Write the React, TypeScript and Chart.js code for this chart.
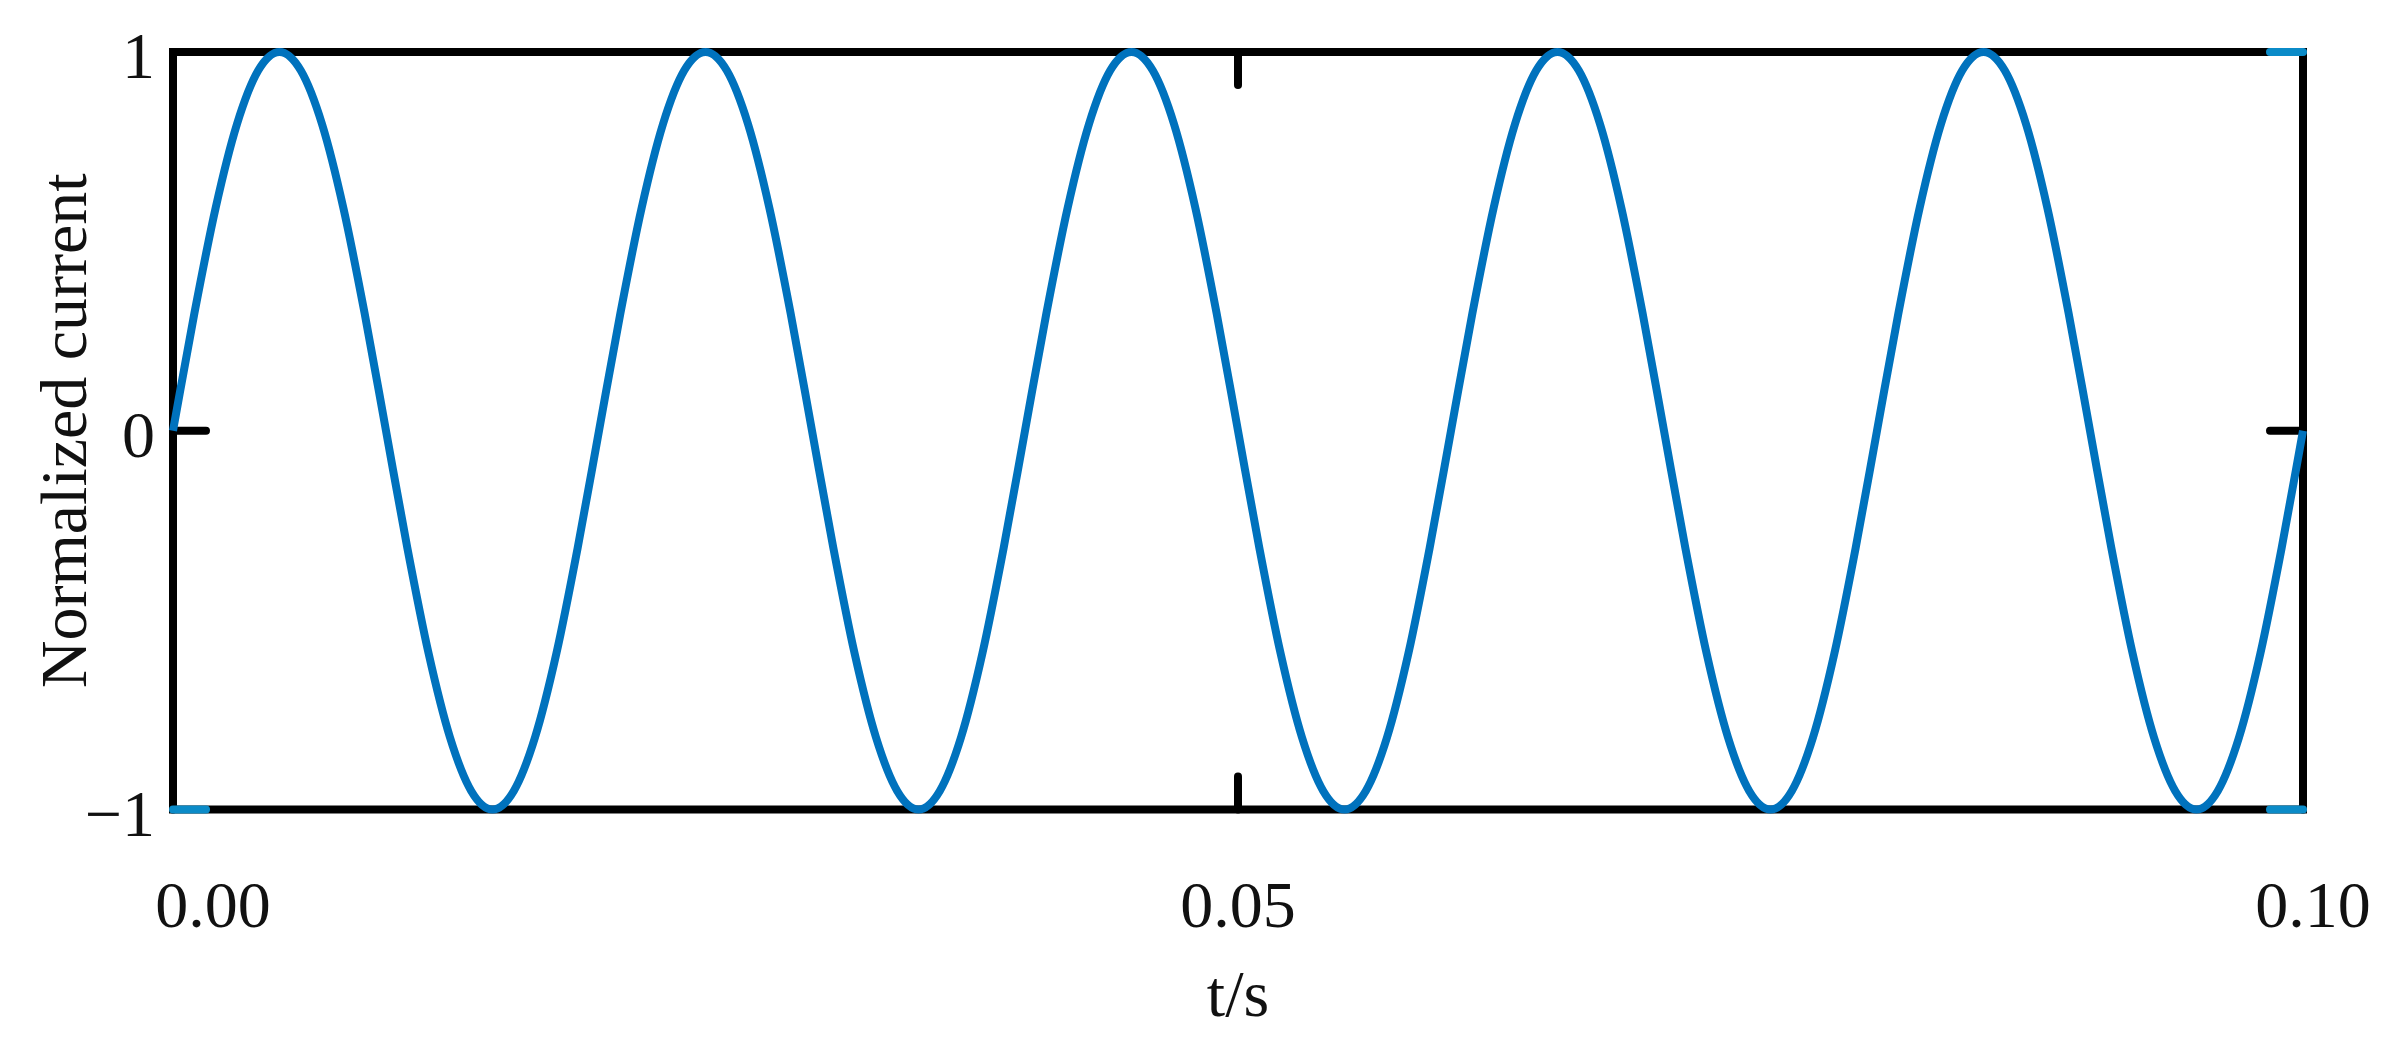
import React, { useEffect, useRef } from "react";
import { Chart, registerables } from "chart.js";

Chart.register(...registerables);

// time (s)
const T = [
  0, 0.001, 0.002, 0.003, 0.004, 0.005, 0.006, 0.007, 0.008, 0.009,
  0.01, 0.011, 0.012, 0.013, 0.014, 0.015, 0.016, 0.017, 0.018, 0.019,
  0.02, 0.021, 0.022, 0.023, 0.024, 0.025, 0.026, 0.027, 0.028, 0.029,
  0.03, 0.031, 0.032, 0.033, 0.034, 0.035, 0.036, 0.037, 0.038, 0.039,
  0.04, 0.041, 0.042, 0.043, 0.044, 0.045, 0.046, 0.047, 0.048, 0.049,
  0.05, 0.051, 0.052, 0.053, 0.054, 0.055, 0.056, 0.057, 0.058, 0.059,
  0.06, 0.061, 0.062, 0.063, 0.064, 0.065, 0.066, 0.067, 0.068, 0.069,
  0.07, 0.071, 0.072, 0.073, 0.074, 0.075, 0.076, 0.077, 0.078, 0.079,
  0.08, 0.081, 0.082, 0.083, 0.084, 0.085, 0.086, 0.087, 0.088, 0.089,
  0.09, 0.091, 0.092, 0.093, 0.094, 0.095, 0.096, 0.097, 0.098, 0.099,
  0.1,
];

// normalized current
const CURRENT = [
  0, 0.309, 0.588, 0.809, 0.951, 1, 0.951, 0.809, 0.588, 0.309,
  0, -0.309, -0.588, -0.809, -0.951, -1, -0.951, -0.809, -0.588, -0.309,
  0, 0.309, 0.588, 0.809, 0.951, 1, 0.951, 0.809, 0.588, 0.309,
  0, -0.309, -0.588, -0.809, -0.951, -1, -0.951, -0.809, -0.588, -0.309,
  0, 0.309, 0.588, 0.809, 0.951, 1, 0.951, 0.809, 0.588, 0.309,
  0, -0.309, -0.588, -0.809, -0.951, -1, -0.951, -0.809, -0.588, -0.309,
  0, 0.309, 0.588, 0.809, 0.951, 1, 0.951, 0.809, 0.588, 0.309,
  0, -0.309, -0.588, -0.809, -0.951, -1, -0.951, -0.809, -0.588, -0.309,
  0, 0.309, 0.588, 0.809, 0.951, 1, 0.951, 0.809, 0.588, 0.309,
  0, -0.309, -0.588, -0.809, -0.951, -1, -0.951, -0.809, -0.588, -0.309,
  0,
];

const X_TICKS = [0, 0.05, 0.1];
const X_TICK_LABELS = ["0.00", "0.05", "0.10"];
const Y_TICKS = [-1, 0, 1];
const Y_TICK_LABELS = ["\u22121", "0", "1"];
const X_TITLE = "t/s";
const Y_TITLE = "Normalized current";

const FONT = "'Liberation Serif', 'Times New Roman', serif";
const FONT_SIZE = 66;
const TEXT_COLOR = "#111";
const LINE_COLOR = "#0072BD";
const TICK_BLUE = "#0b8bc8";

const framePlugin = {
  id: "frame",
  beforeDatasetsDraw(chart: any) {
    const { ctx, chartArea: a, scales } = chart;
    const x = scales.x;
    const y = scales.y;
    const L = 33;
    const seg = (x1: number, y1: number, x2: number, y2: number, color: string) => {
      ctx.strokeStyle = color;
      ctx.beginPath();
      ctx.moveTo(x1, y1);
      ctx.lineTo(x2, y2);
      ctx.stroke();
    };
    ctx.save();
    ctx.lineWidth = 8;
    ctx.strokeStyle = "#000";
    ctx.lineJoin = "miter";
    ctx.strokeRect(a.left, a.top, a.right - a.left, a.bottom - a.top);
    ctx.lineCap = "round";
    X_TICKS.forEach((v) => {
      const px = x.getPixelForValue(v);
      seg(px, a.top, px, a.top + L, "#000");
      seg(px, a.bottom, px, a.bottom - L, "#000");
    });
    Y_TICKS.forEach((v) => {
      const py = y.getPixelForValue(v);
      seg(a.left, py, a.left + L, py, v === -1 ? TICK_BLUE : "#000");
      seg(a.right, py, a.right - L, py, v !== 0 ? TICK_BLUE : "#000");
    });
    ctx.restore();
  },
  afterDraw(chart: any) {
    const { ctx, scales } = chart;
    const x = scales.x;
    const shift = [40, 0, 10];
    ctx.save();
    ctx.font = `${FONT_SIZE}px ${FONT}`;
    ctx.fillStyle = TEXT_COLOR;
    ctx.textAlign = "center";
    ctx.textBaseline = "alphabetic";
    X_TICKS.forEach((v, i) => {
      ctx.fillText(X_TICK_LABELS[i], x.getPixelForValue(v) + shift[i], 927);
    });
    ctx.restore();
  },
};

export default function App() {
  const ref = useRef<HTMLCanvasElement | null>(null);

  useEffect(() => {
    if (!ref.current) return;
    const chart = new Chart(ref.current, {
      type: "line",
      data: {
        datasets: [
          {
            data: T.map((t, i) => ({ x: t, y: CURRENT[i] })),
            borderColor: LINE_COLOR,
            borderWidth: 8,
            pointRadius: 0,
            cubicInterpolationMode: "monotone",
            fill: false,
            clip: false,
          },
        ],
      },
      options: {
        animation: false,
        responsive: false,
        maintainAspectRatio: false,
        layout: { padding: { left: 0, top: 52, right: 102, bottom: 0 } },
        plugins: { legend: { display: false }, tooltip: { enabled: false } },
        scales: {
          x: {
            type: "linear",
            min: 0,
            max: 0.1,
            afterBuildTicks: (s: any) => {
              s.ticks = X_TICKS.map((v) => ({ value: v }));
            },
            afterFit: (s: any) => {
              s.height = 229.5;
            },
            grid: { display: false, drawTicks: false },
            border: { display: false },
            ticks: { display: false },
            title: {
              display: true,
              text: X_TITLE,
              color: TEXT_COLOR,
              font: { family: FONT, size: FONT_SIZE, lineHeight: 1.2 },
              padding: { top: 0, bottom: 1 },
            },
          },
          y: {
            type: "linear",
            min: -1,
            max: 1,
            afterBuildTicks: (s: any) => {
              s.ticks = Y_TICKS.map((v) => ({ value: v }));
            },
            afterFit: (s: any) => {
              s.width = 173;
            },
            grid: { display: false, drawTicks: false },
            border: { display: false },
            ticks: {
              callback: (v: any) => Y_TICK_LABELS[Y_TICKS.indexOf(Number(v))],
              padding: 18,
              labelOffset: 9,
              color: TEXT_COLOR,
              autoSkip: false,
              font: { family: FONT, size: FONT_SIZE, lineHeight: 0.5 },
            },
            title: {
              display: true,
              text: Y_TITLE,
              color: TEXT_COLOR,
              font: { family: FONT, size: FONT_SIZE, lineHeight: 1.2 },
              padding: { top: 29, bottom: 0 },
            },
          },
        },
      },
      plugins: [framePlugin],
    } as any);
    return () => chart.destroy();
  }, []);

  return (
    <div style={{ position: "fixed", left: 0, top: 0, width: 2405, height: 1039, background: "#fff" }}>
      <canvas ref={ref} width={2405} height={1039} style={{ display: "block", width: 2405, height: 1039 }} />
    </div>
  );
}
